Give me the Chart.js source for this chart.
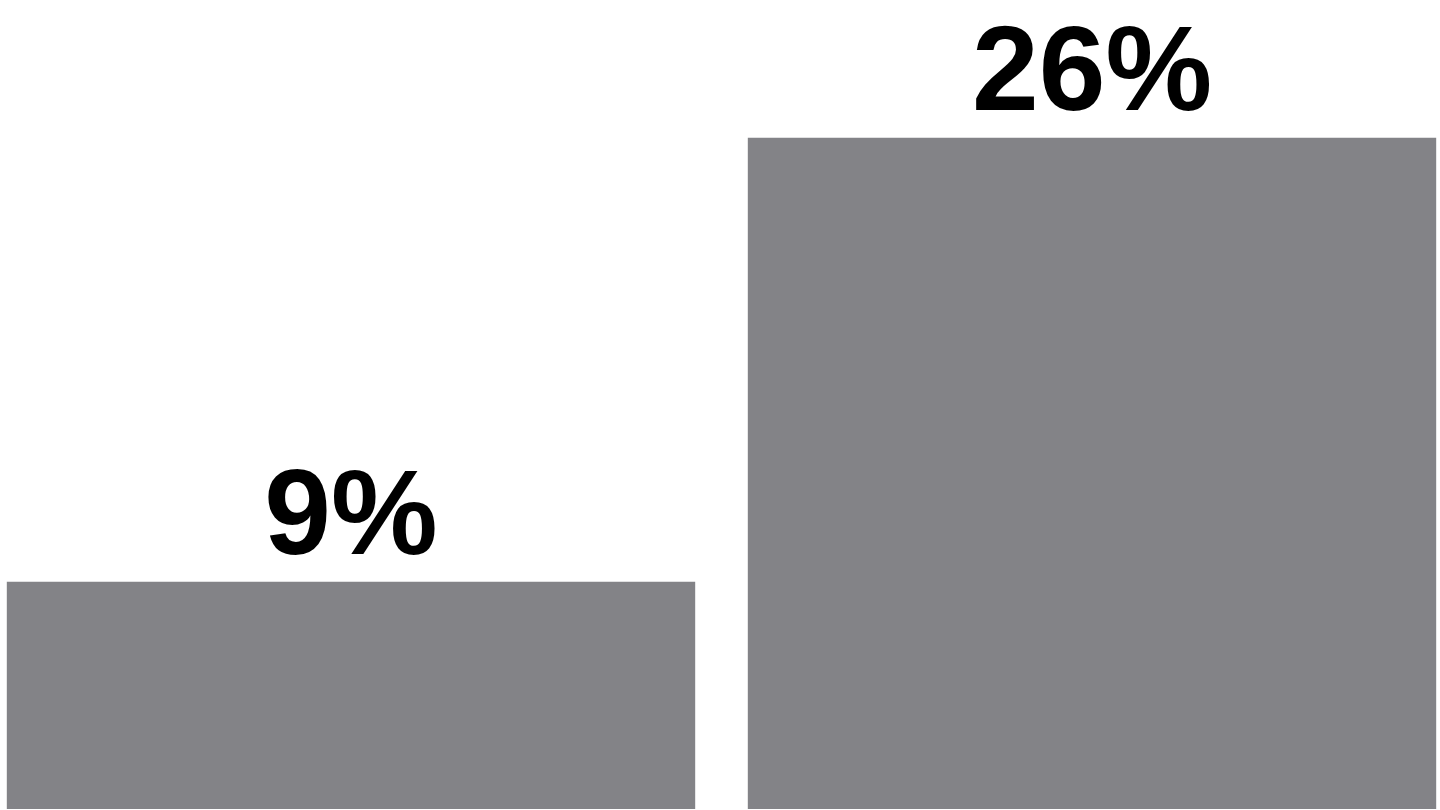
<!DOCTYPE html>
<html>
<head>
<meta charset="utf-8">
<script src="https://cdn.jsdelivr.net/npm/chart.js@4/dist/chart.umd.min.js"></script>
<style>
  html, body { margin: 0; padding: 0; background: #ffffff; }
  #c { display: block; }
</style>
</head>
<body>
<canvas id="c" width="1440" height="810"></canvas>
<script>
// Data
const categories = ["A", "B"];
const values = [8.8, 26];
const barColor = "rgb(131,131,135)";

const labelPlugin = {
  id: "barLabels",
  afterDatasetsDraw(chart) {
    const ctx = chart.ctx;
    const meta = chart.getDatasetMeta(0);
    ctx.save();
    ctx.fillStyle = "#000000";
    ctx.font = "bold 120px 'Liberation Sans', Arial, sans-serif";
    ctx.textAlign = "center";
    ctx.textBaseline = "alphabetic";
    meta.data.forEach((bar, i) => {
      const txt = Math.round(values[i]) + "%";
      ctx.fillText(txt, bar.x, bar.y - 28);
    });
    ctx.restore();
  }
};

new Chart(document.getElementById("c"), {
  type: "bar",
  data: {
    labels: categories,
    datasets: [{
      data: values,
      backgroundColor: barColor,
      borderWidth: 0,
      categoryPercentage: 1,
      barPercentage: 0.929,
      clip: false
    }]
  },
  options: {
    responsive: false,
    animation: false,
    devicePixelRatio: 1,
    layout: { padding: { left: 351, right: 348, top: 0, bottom: 1 } },
    plugins: { legend: { display: false }, tooltip: { enabled: false } },
    scales: {
      x: { display: false, offset: false, grid: { display: false } },
      y: { display: false, min: 0, max: 31.33, grid: { display: false } }
    }
  },
  plugins: [labelPlugin]
});
</script>
</body>
</html>
